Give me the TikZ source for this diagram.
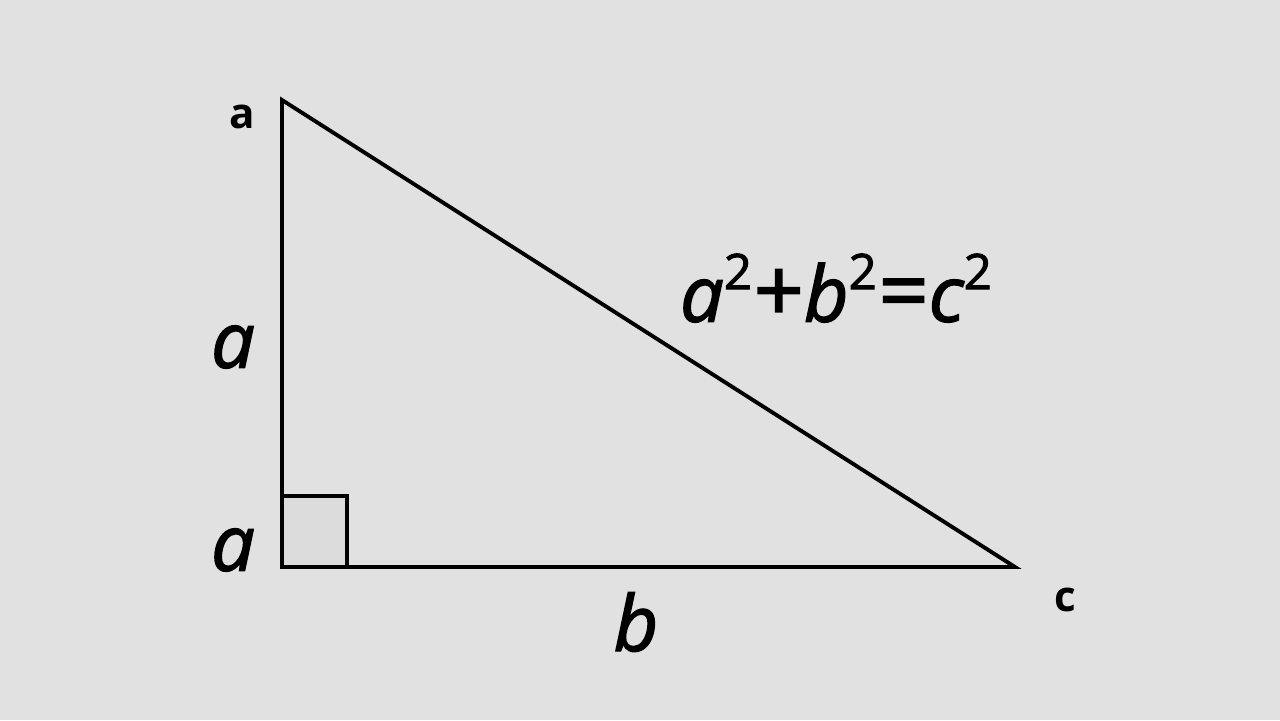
\documentclass[tikz,border=0pt]{standalone}
\usepackage{fontspec}
\setmainfont{Open Sans}
\newfontfamily\labelfont{Open Sans}[FakeBold=1.8]
\usepackage{xcolor}
\definecolor{paper}{HTML}{E1E1E1}
\definecolor{boxfill}{HTML}{DCDCDC}

\newcommand{\sqr}{\raisebox{0.42em}{\fontsize{28}{28}\selectfont\upshape 2}}

\begin{document}
\begin{tikzpicture}[
    x=0.02cm, y=-0.02cm,
    edge/.style={draw=black, line width=2.2pt, line join=miter},
    biglabel/.style={font=\labelfont\fontsize{44}{44}\selectfont\itshape, inner sep=0pt},
    smalllabel/.style={font=\fontsize{24}{24}\selectfont\bfseries, inner sep=0pt}
]
\fill[paper] (0,0) rectangle (1280,720);
\useasboundingbox (0,0) rectangle (1280,720);

% corners of the triangle
\coordinate (top) at (282,100);
\coordinate (corner) at (282,567);
\coordinate (right) at (1015,567);

% right angle mark
\coordinate (sqtop) at (282,496);
\coordinate (sqright) at (347,567);
\filldraw[edge, fill=boxfill] (sqtop) rectangle (sqright);

\draw[edge] (top) -- (corner) -- (right) -- cycle;

% labels
\node[smalllabel] (topname) at (242,117) {a};
\node[smalllabel] (rightname) at (1065,600) {c};
\node[biglabel] (sidea) at (233,347) {a};
\node[biglabel] (cornera) at (233,550) {a};
\node[biglabel] (sideb) at (636,622) {b};
\node[biglabel] (rule) at (836,288) {a\sqr\kern1pt{\upshape\fontsize{50}{50}\selectfont +}b\sqr\kern1pt{\upshape\fontsize{50}{50}\selectfont =}c\sqr};

\end{tikzpicture}
\end{document}
